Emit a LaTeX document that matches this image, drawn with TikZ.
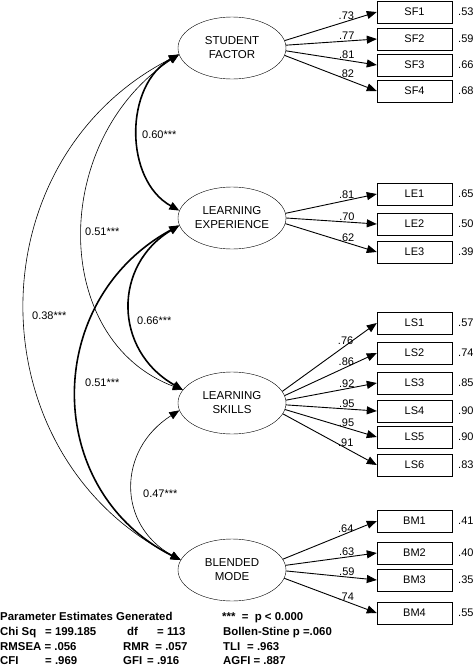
\documentclass[tikz,border=0pt]{standalone}
\usepackage{fontspec}
\setmainfont{Liberation Sans}
\usetikzlibrary{arrows.meta,shapes.geometric}

\tikzset{
    latent/.style={draw, ellipse, minimum width=108pt, minimum height=62pt, inner sep=0pt, align=center, font=\fontsize{11.5}{14}\selectfont},
    item/.style={draw, rectangle, minimum width=75pt, minimum height=22pt, inner sep=0pt, font=\fontsize{11}{12}\selectfont},
    load/.style={-{Triangle[length=10pt,width=8pt]}, line width=0.9pt},
    covthin/.style={{Triangle[length=10pt,width=8pt]}-{Triangle[length=10pt,width=8pt]}, line width=0.6pt},
    covthick/.style={covthin, line width=1.6pt},
    wt/.style={font=\fontsize{11}{12}\selectfont, inner sep=1pt},
    stat/.style={anchor=base west, inner sep=0pt, font=\fontsize{11.4}{12}\selectfont\bfseries}
}

\begin{document}
\begin{tikzpicture}[x=1pt, y=-1pt]
        \clip (0,0) rectangle (474,665);
        \fill[white] (0,0) rectangle (474,665);

        % Latent factors
        \node[latent] (sf) at (232,48) {STUDENT\\FACTOR};
        \node[latent] (le) at (232,218) {LEARNING\\EXPERIENCE};
        \node[latent] (ls) at (232,403) {LEARNING\\SKILLS};
        \node[latent] (bm) at (232,570) {BLENDED\\MODE};

        % Observed items
        \node[item] (sf1) at (414.5,12) {SF1};
        \node[item] (sf2) at (414.5,39) {SF2};
        \node[item] (sf3) at (414.5,65) {SF3};
        \node[item] (sf4) at (414.5,91) {SF4};

        \node[item] (le1) at (414.5,194) {LE1};
        \node[item] (le2) at (414.5,224) {LE2};
        \node[item] (le3) at (414.5,252) {LE3};

        \node[item] (ls1) at (414.5,323) {LS1};
        \node[item] (ls2) at (414.5,353) {LS2};
        \node[item] (ls3) at (414.5,383) {LS3};
        \node[item] (ls4) at (414.5,411) {LS4};
        \node[item] (ls5) at (414.5,437) {LS5};
        \node[item] (ls6) at (414.5,465) {LS6};

        \node[item] (bm1) at (414.5,521) {BM1};
        \node[item] (bm2) at (414.5,553) {BM2};
        \node[item] (bm3) at (414.5,580) {BM3};
        \node[item] (bm4) at (414.5,613) {BM4};

        % Squared multiple correlations
        \node[wt, anchor=west] (rsf1) at (457,12) {.53};
        \node[wt, anchor=west] (rsf2) at (457,39) {.59};
        \node[wt, anchor=west] (rsf3) at (457,65) {.66};
        \node[wt, anchor=west] (rsf4) at (457,91) {.68};
        \node[wt, anchor=west] (rle1) at (457,194) {.65};
        \node[wt, anchor=west] (rle2) at (457,224) {.50};
        \node[wt, anchor=west] (rle3) at (457,252) {.39};
        \node[wt, anchor=west] (rls1) at (457,323) {.57};
        \node[wt, anchor=west] (rls2) at (457,353) {.74};
        \node[wt, anchor=west] (rls3) at (457,383) {.85};
        \node[wt, anchor=west] (rls4) at (457,411) {.90};
        \node[wt, anchor=west] (rls5) at (457,437) {.90};
        \node[wt, anchor=west] (rls6) at (457,465) {.83};
        \node[wt, anchor=west] (rbm1) at (457,521) {.41};
        \node[wt, anchor=west] (rbm2) at (457,553) {.40};
        \node[wt, anchor=west] (rbm3) at (457,580) {.35};
        \node[wt, anchor=west] (rbm4) at (457,613) {.55};

        % Factor loadings
        \draw[load] (sf.8) -- node[wt, pos=0.67, above] (wsf1) {.73} (sf1.west);
        \draw[load] (sf.3) -- node[wt, pos=0.67, above] (wsf2) {.77} (sf2.west);
        \draw[load] (sf.-3) -- node[wt, pos=0.67, above] (wsf3) {.81} (sf3.west);
        \draw[load] (sf.-8) -- node[wt, pos=0.67, above] (wsf4) {.82} (sf4.west);

        \draw[load] (le.5) -- node[wt, pos=0.67, above] (wle1) {.81} (le1.west);
        \draw[load] (le.0) -- node[wt, pos=0.67, above] (wle2) {.70} (le2.west);
        \draw[load] (le.-6) -- node[wt, pos=0.67, above] (wle3) {.62} (le3.west);

        \draw[load] (ls.13) -- node[wt, pos=0.67, above] (wls1) {.76} (ls1.west);
        \draw[load] (ls.8) -- node[wt, pos=0.67, above] (wls2) {.86} (ls2.west);
        \draw[load] (ls.3) -- node[wt, pos=0.67, above] (wls3) {.92} (ls3.west);
        \draw[load] (ls.-2) -- node[wt, pos=0.67, above] (wls4) {.95} (ls4.west);
        \draw[load] (ls.-7) -- node[wt, pos=0.67, above] (wls5) {.95} (ls5.west);
        \draw[load] (ls.-12) -- node[wt, pos=0.67, above] (wls6) {.91} (ls6.west);

        \draw[load] (bm.12) -- node[wt, pos=0.67, above] (wbm1) {.64} (bm1.west);
        \draw[load] (bm.5) -- node[wt, pos=0.67, above] (wbm2) {.63} (bm2.west);
        \draw[load] (bm.-1) -- node[wt, pos=0.67, above] (wbm3) {.59} (bm3.west);
        \draw[load] (bm.-9) -- node[wt, pos=0.67, above] (wbm4) {.74} (bm4.west);

        % Correlations between factors
        \draw[covthick] (sf.187) .. controls (124,85) and (124,180) .. (le.172);
        \draw[covthin] (sf.187) .. controls (50,140) and (50,340) .. (ls.165);
        \draw[covthin] (sf.187) .. controls (-27,160) and (-26,455) .. (bm.169);
        \draw[covthick] (le.188) .. controls (113,265) and (113,350) .. (ls.165);
        \draw[covthick] (le.188) .. controls (42,300) and (42,490) .. (bm.169);
        \draw[covthin] (ls.188) .. controls (117,450) and (117,525) .. (bm.169);

        \node[wt, anchor=west] (csfle) at (141,135) {0.60***};
        \node[wt, anchor=west] (csfls) at (84,232) {0.51***};
        \node[wt, anchor=west] (csfbm) at (31,316) {0.38***};
        \node[wt, anchor=west] (clels) at (136,321) {0.66***};
        \node[wt, anchor=west] (clebm) at (84,383) {0.51***};
        \node[wt, anchor=west] (clsbm) at (142,494) {0.47***};

        % Fit statistics
        \node[stat] (fit1) at (0,620) {Parameter Estimates Generated};
        \node[stat] (fit2) at (222,620) {***\ \ =\ \ p < 0.000};
        \node[stat] (chi) at (0,635.5) {Chi Sq};
        \node[stat] (chiv) at (45,635.5) {= 199.185};
        \node[stat] (df) at (127,635.5) {df};
        \node[stat] (dfv) at (157,635.5) {= 113};
        \node[stat] (bs) at (223,635.5) {Bollen-Stine p =.060};
        \node[stat] (rmsea) at (0,650) {RMSEA = .056};
        \node[stat] (rmr) at (123,650) {RMR\ \ = .057};
        \node[stat] (tli) at (223,650) {TLI};
        \node[stat] (tliv) at (247,650) {= .963};
        \node[stat] (cfi) at (0,664) {CFI};
        \node[stat] (cfiv) at (45,664) {= .969};
        \node[stat] (gfi) at (123,664) {GFI};
        \node[stat] (gfiv) at (147,664) {= .916};
        \node[stat] (agfi) at (223,664) {AGFI = .887};

    \end{tikzpicture}
\end{document}
